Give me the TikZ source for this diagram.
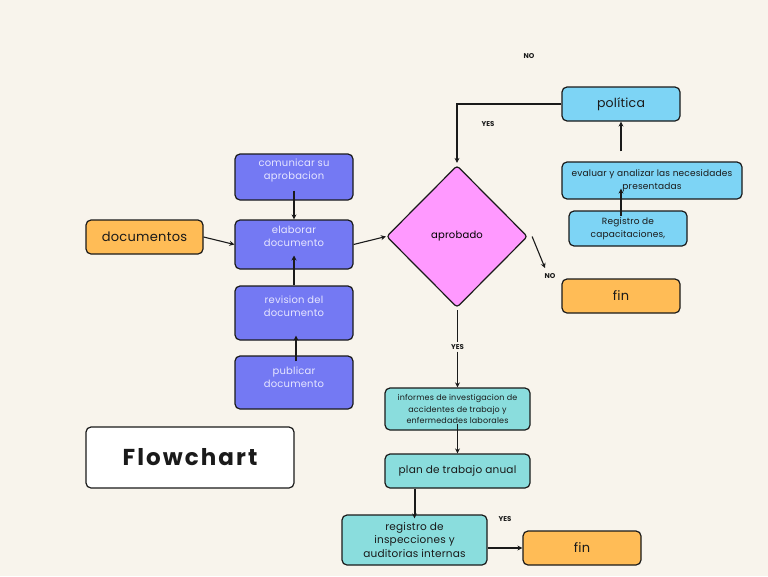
\documentclass[tikz,border=0pt]{standalone}
\usepackage{fontspec}
\setmainfont{Poppins}
\usetikzlibrary{shapes.geometric,arrows.meta}
\definecolor{fondo}{HTML}{F8F4EC}
\definecolor{naranja}{HTML}{FFBC56}
\definecolor{morado}{HTML}{7479F3}
\definecolor{rosa}{HTML}{FF99FF}
\definecolor{celeste}{HTML}{7DD4F5}
\definecolor{turquesa}{HTML}{8ADDDD}
\definecolor{claro}{HTML}{E6E6FF}
\definecolor{tinta}{HTML}{1A1A1A}
\tikzset{
  caja/.style={draw=tinta, line width=1.2pt, rounded corners=5pt, inner sep=0pt, text=tinta},
  tam/.style 2 args={minimum width=#1pt, minimum height=#2pt},
  cajanaranja/.style={caja, fill=naranja, font=\fontsize{13}{16}\selectfont\addfontfeatures{LetterSpace=2}},
  cajamorada/.style={caja, fill=morado},
  textomorado/.style={text=claro, align=center, inner sep=0pt, font=\fontsize{10}{13}\selectfont\addfontfeatures{LetterSpace=2}},
  cajaceleste/.style={caja, fill=celeste, align=center},
  cajaturquesa/.style={caja, fill=turquesa, align=center},
  etiqueta/.style={font=\fontsize{7}{8}\selectfont\bfseries, text=tinta, inner sep=2pt},
  flecha/.style={draw=tinta, line width=1.1pt, -{Stealth[length=5pt,width=5pt]}},
  flechagruesa/.style={draw=tinta, line width=2pt, -{Stealth[length=5pt,width=5pt]}},
}
\begin{document}
\begin{tikzpicture}[x=1pt, y=-1pt]
  % fondo (768 x 576)
  \fill[fondo] (0,0) rectangle (768,576);
  \useasboundingbox (0,0) rectangle (768,576);
  % columna izquierda
  \node[cajanaranja, tam={117}{34}] (docs) at (144.5,237) {documentos};
  \node[cajamorada, tam={118}{46}] (comunicar) at (294,177) {};
  \node[textomorado] at ([yshift=7pt]comunicar.center) {comunicar su\\aprobacion};
  \node[cajamorada, tam={118}{49}] (elab) at (294,244.5) {};
  \node[textomorado] at ([yshift=8pt]elab.center) {elaborar\\documento};
  \node[cajamorada, tam={118}{54}] (revision) at (294,313) {};
  \node[textomorado] at ([yshift=6.5pt]revision.center) {revision del\\documento};
  \node[cajamorada, tam={118}{53}] (publicar) at (294,382.5) {};
  \node[textomorado] at ([yshift=5.5pt]publicar.center) {publicar\\documento};
  % titulo
  \node[caja, fill=white, tam={208}{61}, font=\fontsize{23}{26}\selectfont\bfseries\addfontfeatures{LetterSpace=9}] (titulo) at (190,457.5) {Flowchart};
  % decision
  \node[diamond, draw=tinta, line width=1.2pt, fill=rosa, rounded corners=3pt, minimum width=141pt, minimum height=142pt, inner sep=0pt, font=\fontsize{10}{13}\selectfont\addfontfeatures{LetterSpace=2}] (aprob) at (457,236.5) {aprobado};
  % columna derecha
  \node[cajaceleste, tam={118}{34}, font=\fontsize{12.5}{15}\selectfont\addfontfeatures{LetterSpace=2}] (politica) at (621,104) {política};
  \node[cajaceleste, tam={180}{37}, font=\fontsize{9}{13}\selectfont\addfontfeatures{LetterSpace=2}] (evaluar) at (652,180.5) {evaluar y analizar las necesidades\\presentadas};
  \node[cajaceleste, tam={118}{35}, font=\fontsize{9}{13}\selectfont\addfontfeatures{LetterSpace=2}] (capacit) at (628,228.5) {Registro de\\capacitaciones,};
  \node[cajanaranja, tam={118}{34}] (fin1) at (621,296) {fin};
  % columna central
  \node[cajaturquesa, tam={145}{42}, font=\fontsize{8}{11.5}\selectfont\addfontfeatures{LetterSpace=2}] (informes) at (457.5,409) {informes de investigacion de\\accidentes de trabajo y\\enfermedades laborales};
  \node[cajaturquesa, tam={145}{34}, font=\fontsize{10.5}{13}\selectfont\addfontfeatures{LetterSpace=2}] (plan) at (457.5,471) {plan de trabajo anual};
  \node[cajaturquesa, tam={145}{50}, font=\fontsize{10.5}{13.5}\selectfont\addfontfeatures{LetterSpace=2}] (registro) at (414.5,540) {registro de\\inspecciones y\\auditorias internas};
  \node[cajanaranja, tam={118}{34}] (fin2) at (582,548) {fin};
  % etiquetas
  \node[etiqueta] (no1) at (529,56) {NO};
  \node[etiqueta] (yes1) at (488,124) {YES};
  \node[etiqueta] (no2) at (550,276) {NO};
  \node[etiqueta] (yes2) at (457.5,347) {YES};
  \node[etiqueta] (yes3) at (505,519) {YES};
  \coordinate (pno) at (545,268);
  % conectores
  \draw[flecha] (docs.east) -- (elab.west);
  \draw[flecha] ([yshift=10pt]comunicar.south) -- (elab.north);
  \draw[flecha] (revision.north) -- ([yshift=-11pt]elab.center);
  \draw[flechagruesa] ([xshift=2pt,yshift=-6pt]publicar.north) -- ([xshift=2pt,yshift=5pt]revision.south);
  \draw[flecha] (elab.east) -- (aprob.west);
  \draw[flecha] (politica.west) -| ([yshift=2pt]aprob.north);
  \draw[flechagruesa] ([xshift=-31pt,yshift=10pt]evaluar.north) -- (politica.south);
  \draw[flechagruesa] ([xshift=-7pt,yshift=-6pt]capacit.north) -- ([xshift=-31pt,yshift=11pt]evaluar.south);
  \draw[flecha] ([xshift=4pt]aprob.east) -- (pno);
  \draw[draw=tinta, line width=1.1pt] ([xshift=0.5pt,yshift=-2pt]aprob.south) -- (yes2.north);
  \draw[flecha] (yes2.south) -- (informes.north);
  \draw[flecha] ([yshift=7pt]informes.south) -- (plan.north);
  \draw[flechagruesa] ([xshift=-43pt]plan.south) -- ([yshift=-4pt]registro.north);
  \draw[flecha] ([yshift=-8pt]registro.east) -- (fin2.west);
\end{tikzpicture}
\end{document}
